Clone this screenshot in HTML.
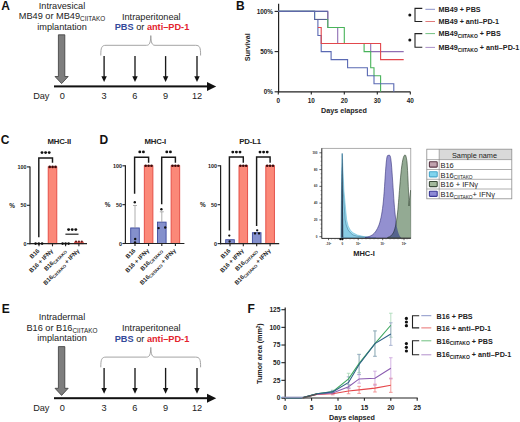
<!DOCTYPE html>
<html><head><meta charset="utf-8"><style>
html,body{margin:0;padding:0;background:#fff;width:520px;height:422px;overflow:hidden}
svg{display:block;font-family:"Liberation Sans",sans-serif}
</style></head><body>
<svg width="520" height="422" viewBox="0 0 520 422">
<text x="1.2" y="9.8" font-size="12" text-anchor="start" font-weight="bold" fill="#111" >A</text>
<text x="62" y="8.7" font-size="9.2" text-anchor="middle" font-weight="normal" fill="#222" >Intravesical</text>
<text x="62" y="19.1" font-size="9.2" text-anchor="middle" fill="#222">MB49 or MB49<tspan font-size="6.4" dy="1.8">CIITAKO</tspan></text>
<text x="62" y="29.5" font-size="9.2" text-anchor="middle" font-weight="normal" fill="#222" >implantation</text>
<path d="M58.4 34.8 H64.8 V76.5 H68.2 L61.6 83.6 L55 76.5 H58.4 Z" fill="#7e7e7e" stroke="#3a3a3a" stroke-width="0.8"/>
<rect x="54" y="85.4" width="155" height="2" fill="#111"/>
<path d="M207 81.9 L216.2 86.4 L207 90.9 Z" fill="#111"/>
<line x1="104.1" y1="56.1" x2="104.1" y2="77" stroke="#1a1a1a" stroke-width="1.35" />
<path d="M101.39999999999999 76.2 L106.8 76.2 L104.1 82 Z" fill="#111"/>
<line x1="135" y1="56.1" x2="135" y2="77" stroke="#1a1a1a" stroke-width="1.35" />
<path d="M132.3 76.2 L137.7 76.2 L135 82 Z" fill="#111"/>
<line x1="165.6" y1="56.1" x2="165.6" y2="77" stroke="#1a1a1a" stroke-width="1.35" />
<path d="M162.9 76.2 L168.29999999999998 76.2 L165.6 82 Z" fill="#111"/>
<line x1="197" y1="56.1" x2="197" y2="77" stroke="#1a1a1a" stroke-width="1.35" />
<path d="M194.3 76.2 L199.7 76.2 L197 82 Z" fill="#111"/>
<path d="M100.8 55.5 C100.8 47.8 101.5 45.3 106 45.3 H146.5 C149.5 45.3 150.6 42.8 150.8 35.6 C151 42.8 152.1 45.3 155 45.3 H195.5 C200 45.3 200.6 47.8 200.6 55.5" fill="none" stroke="#9a9a9a" stroke-width="0.9"/>
<text x="151.3" y="19.9" font-size="9.2" text-anchor="middle" font-weight="normal" fill="#222" >Intraperitoneal</text>
<text x="152" y="30.3" font-size="9.2" text-anchor="middle" fill="#222"><tspan font-weight="bold" fill="#34499a">PBS</tspan> or <tspan font-weight="bold" fill="#e3232e">anti–PD-1</tspan></text>
<text x="41.3" y="99.4" font-size="9.2" text-anchor="middle" font-weight="normal" fill="#222" >Day</text>
<text x="62.2" y="99.4" font-size="9.2" text-anchor="middle" font-weight="normal" fill="#222" >0</text>
<text x="104.1" y="99.4" font-size="9.2" text-anchor="middle" font-weight="normal" fill="#222" >3</text>
<text x="134.8" y="99.4" font-size="9.2" text-anchor="middle" font-weight="normal" fill="#222" >6</text>
<text x="165.6" y="99.4" font-size="9.2" text-anchor="middle" font-weight="normal" fill="#222" >9</text>
<text x="197.1" y="99.4" font-size="9.2" text-anchor="middle" font-weight="normal" fill="#222" >12</text>
<text x="1.7" y="313.3" font-size="12" text-anchor="start" font-weight="bold" fill="#111" >E</text>
<text x="62" y="320.4" font-size="9.2" text-anchor="middle" font-weight="normal" fill="#222" >Intradermal</text>
<text x="62" y="330.8" font-size="9.2" text-anchor="middle" fill="#222">B16 or B16<tspan font-size="6.4" dy="1.8">CIITAKO</tspan></text>
<text x="62" y="341.4" font-size="9.2" text-anchor="middle" font-weight="normal" fill="#222" >implantation</text>
<path d="M58.4 346.6 H64.8 V388.3 H68.2 L61.6 395.4 L55 388.3 H58.4 Z" fill="#7e7e7e" stroke="#3a3a3a" stroke-width="0.8"/>
<rect x="54" y="397.20000000000005" width="155" height="2" fill="#111"/>
<path d="M207 393.70000000000005 L216.2 398.20000000000005 L207 402.70000000000005 Z" fill="#111"/>
<line x1="104.1" y1="367.90000000000003" x2="104.1" y2="388.8" stroke="#1a1a1a" stroke-width="1.35" />
<path d="M101.39999999999999 388.0 L106.8 388.0 L104.1 393.8 Z" fill="#111"/>
<line x1="135" y1="367.90000000000003" x2="135" y2="388.8" stroke="#1a1a1a" stroke-width="1.35" />
<path d="M132.3 388.0 L137.7 388.0 L135 393.8 Z" fill="#111"/>
<line x1="165.6" y1="367.90000000000003" x2="165.6" y2="388.8" stroke="#1a1a1a" stroke-width="1.35" />
<path d="M162.9 388.0 L168.29999999999998 388.0 L165.6 393.8 Z" fill="#111"/>
<line x1="197" y1="367.90000000000003" x2="197" y2="388.8" stroke="#1a1a1a" stroke-width="1.35" />
<path d="M194.3 388.0 L199.7 388.0 L197 393.8 Z" fill="#111"/>
<path d="M100.8 367.3 C100.8 359.6 101.5 357.1 106 357.1 H146.5 C149.5 357.1 150.6 354.6 150.8 347.40000000000003 C151 354.6 152.1 357.1 155 357.1 H195.5 C200 357.1 200.6 359.6 200.6 367.3" fill="none" stroke="#9a9a9a" stroke-width="0.9"/>
<text x="151.3" y="331.3" font-size="9.2" text-anchor="middle" font-weight="normal" fill="#222" >Intraperitoneal</text>
<text x="152" y="342.3" font-size="9.2" text-anchor="middle" fill="#222"><tspan font-weight="bold" fill="#34499a">PBS</tspan> or <tspan font-weight="bold" fill="#e3232e">anti–PD-1</tspan></text>
<text x="41.3" y="411.20000000000005" font-size="9.2" text-anchor="middle" font-weight="normal" fill="#222" >Day</text>
<text x="62.2" y="411.20000000000005" font-size="9.2" text-anchor="middle" font-weight="normal" fill="#222" >0</text>
<text x="104.1" y="411.20000000000005" font-size="9.2" text-anchor="middle" font-weight="normal" fill="#222" >3</text>
<text x="134.8" y="411.20000000000005" font-size="9.2" text-anchor="middle" font-weight="normal" fill="#222" >6</text>
<text x="165.6" y="411.20000000000005" font-size="9.2" text-anchor="middle" font-weight="normal" fill="#222" >9</text>
<text x="197.1" y="411.20000000000005" font-size="9.2" text-anchor="middle" font-weight="normal" fill="#222" >12</text>
<text x="235.9" y="9.8" font-size="12" text-anchor="start" font-weight="bold" fill="#111" >B</text>
<line x1="278.6" y1="3.8" x2="278.6" y2="92.3" stroke="#222" stroke-width="1.2" />
<line x1="278" y1="91.8" x2="410.4" y2="91.8" stroke="#222" stroke-width="1.2" />
<line x1="274.6" y1="11.399999999999991" x2="278.6" y2="11.399999999999991" stroke="#222" stroke-width="1.1" />
<text x="273" y="13.699999999999992" font-size="6.4" text-anchor="end" font-weight="bold" fill="#222" >100%</text>
<line x1="274.6" y1="51.599999999999994" x2="278.6" y2="51.599999999999994" stroke="#222" stroke-width="1.1" />
<text x="273" y="53.89999999999999" font-size="6.4" text-anchor="end" font-weight="bold" fill="#222" >50%</text>
<line x1="274.6" y1="91.8" x2="278.6" y2="91.8" stroke="#222" stroke-width="1.1" />
<text x="273" y="94.1" font-size="6.4" text-anchor="end" font-weight="bold" fill="#222" >0%</text>
<line x1="278.3" y1="91.8" x2="278.3" y2="94.5" stroke="#222" stroke-width="1.1" />
<text x="278.3" y="102.6" font-size="6.4" text-anchor="middle" font-weight="bold" fill="#222" >0</text>
<line x1="311.3" y1="91.8" x2="311.3" y2="94.5" stroke="#222" stroke-width="1.1" />
<text x="311.3" y="102.6" font-size="6.4" text-anchor="middle" font-weight="bold" fill="#222" >10</text>
<line x1="344.3" y1="91.8" x2="344.3" y2="94.5" stroke="#222" stroke-width="1.1" />
<text x="344.3" y="102.6" font-size="6.4" text-anchor="middle" font-weight="bold" fill="#222" >20</text>
<line x1="377.3" y1="91.8" x2="377.3" y2="94.5" stroke="#222" stroke-width="1.1" />
<text x="377.3" y="102.6" font-size="6.4" text-anchor="middle" font-weight="bold" fill="#222" >30</text>
<line x1="410.3" y1="91.8" x2="410.3" y2="94.5" stroke="#222" stroke-width="1.1" />
<text x="410.3" y="102.6" font-size="6.4" text-anchor="middle" font-weight="bold" fill="#222" >40</text>
<text x="344" y="113.4" font-size="7.2" text-anchor="middle" font-weight="bold" fill="#222" >Days elapsed</text>
<text transform="translate(250.2 47.2) rotate(-90)" font-size="7.2" text-anchor="middle" font-weight="bold" fill="#222">Survival</text>
<path d="M278.3 11.4 H327.8 V27.48 H337.7 V43.56 H370.7 V51.6 H403.7 V51.6" fill="none" stroke="#8f6fb3" stroke-width="1.1"/>
<path d="M278.3 11.4 H314.6 V19.44 H327.8 V27.48 H344.3 V43.56 H364.1 V51.6 H370.7 V67.68 H374.0 V75.72 H380.6 V91.8" fill="none" stroke="#48b35a" stroke-width="1.1"/>
<path d="M278.3 11.4 H314.6 V19.44 H317.9 V35.52 H321.2 V51.6 H331.1 V59.64 H347.6 V67.68 H367.4 V75.72 H374.0 V83.76 H393.8 V91.8" fill="none" stroke="#5a69b3" stroke-width="1.1"/>
<path d="M317.9 27.48 H321.2 V43.56 H380.6 V59.64 H403.7" fill="none" stroke="#e2474c" stroke-width="1.1"/>
<path d="M314.6 19.44 H326.48" fill="none" stroke="#5b6292" stroke-width="1.1"/>
<path d="M327.8 11.4 V19.44" fill="none" stroke="#7a6a9c" stroke-width="1.1"/>
<path d="M278.3 11.4 H327.8" fill="none" stroke="#5e68a8" stroke-width="1.1"/>
<path d="M422.3 8.4 H415 V21.5 H422.3" fill="none" stroke="#222" stroke-width="1.1"/>
<circle cx="409.8" cy="14.9" r="1.5" fill="#111"/>
<path d="M422.3 33.6 H415 V47.2 H422.3" fill="none" stroke="#222" stroke-width="1.1"/>
<circle cx="409.8" cy="40.0" r="1.5" fill="#111"/>
<line x1="425.4" y1="9.3" x2="435" y2="9.3" stroke="#8c93c8" stroke-width="1" />
<line x1="425.4" y1="21.5" x2="435" y2="21.5" stroke="#e07a7a" stroke-width="1" />
<line x1="425.4" y1="33.6" x2="435" y2="33.6" stroke="#72c080" stroke-width="1" />
<line x1="425.4" y1="47.4" x2="435" y2="47.4" stroke="#ab90c8" stroke-width="1" />
<text x="438.5" y="11.8" font-size="7.2" text-anchor="start" font-weight="bold" fill="#222" >MB49 + PBS</text>
<text x="438.5" y="24.0" font-size="7.2" text-anchor="start" font-weight="bold" fill="#222" >MB49 + anti–PD-1</text>
<text x="438.5" y="36.2" font-size="7.2" font-weight="bold" fill="#222">MB49<tspan font-size="5" dy="1.6">CIITAKO</tspan><tspan dy="-1.6"> + PBS</tspan></text>
<text x="438.5" y="50.0" font-size="7.2" font-weight="bold" fill="#222">MB49<tspan font-size="5" dy="1.6">CIITAKO</tspan><tspan dy="-1.6"> + anti–PD-1</tspan></text>
<text x="0.8" y="143.6" font-size="12" text-anchor="start" font-weight="bold" fill="#111" >C</text>
<rect x="48.2" y="166.9" width="8.6" height="76.79999999999998" fill="#fb8878" stroke="#e2473f" stroke-width="0.9"/>
<rect x="74.60000000000001" y="242.164" width="8.6" height="1.5360000000000014" fill="#fb8878" stroke="#e2473f" stroke-width="0.9"/>
<line x1="30.0" y1="166.4" x2="30.0" y2="244.29999999999998" stroke="#222" stroke-width="1.2" />
<line x1="29.5" y1="243.7" x2="87" y2="243.7" stroke="#222" stroke-width="1.2" />
<line x1="27.0" y1="166.9" x2="30.0" y2="166.9" stroke="#222" stroke-width="1.1" />
<text x="26.5" y="168.9" font-size="5.4" text-anchor="end" font-weight="bold" fill="#222" >100</text>
<line x1="27.0" y1="205.3" x2="30.0" y2="205.3" stroke="#222" stroke-width="1.1" />
<text x="26.5" y="207.3" font-size="5.4" text-anchor="end" font-weight="bold" fill="#222" >50</text>
<line x1="27.0" y1="243.7" x2="30.0" y2="243.7" stroke="#222" stroke-width="1.1" />
<text x="26.5" y="245.7" font-size="5.4" text-anchor="end" font-weight="bold" fill="#222" >0</text>
<text x="12.2" y="207.60000000000002" font-size="6.4" text-anchor="middle" font-weight="bold" fill="#222" >%</text>
<line x1="39" y1="243.7" x2="39" y2="246.29999999999998" stroke="#222" stroke-width="1.1" />
<line x1="52.5" y1="243.7" x2="52.5" y2="246.29999999999998" stroke="#222" stroke-width="1.1" />
<line x1="65.6" y1="243.7" x2="65.6" y2="246.29999999999998" stroke="#222" stroke-width="1.1" />
<line x1="78.9" y1="243.7" x2="78.9" y2="246.29999999999998" stroke="#222" stroke-width="1.1" />
<text x="59.2" y="143.8" font-size="7.8" text-anchor="middle" font-weight="bold" fill="#222" letter-spacing="-0.2">MHC-II</text>
<path d="M38.8 237.3 V158.0 H52.5 V162.8" fill="none" stroke="#1a1a1a" stroke-width="1.45"/>
<circle cx="42.0" cy="152.6" r="1.45" fill="#111"/>
<circle cx="45.6" cy="152.6" r="1.45" fill="#111"/>
<circle cx="49.2" cy="152.6" r="1.45" fill="#111"/>
<circle cx="68.60000000000001" cy="229.6" r="1.45" fill="#111"/>
<circle cx="72.2" cy="229.6" r="1.45" fill="#111"/>
<circle cx="75.8" cy="229.6" r="1.45" fill="#111"/>
<text transform="translate(39.9 251.29999999999998) rotate(-45)" font-size="6" text-anchor="end" font-weight="bold" fill="#222">B16</text>
<text transform="translate(53.4 251.29999999999998) rotate(-45)" font-size="6" text-anchor="end" font-weight="bold" fill="#222">B16 + IFNγ</text>
<text transform="translate(66.5 251.29999999999998) rotate(-45)" font-size="6" text-anchor="end" font-weight="bold" fill="#222">B16<tspan font-size="4.3" dy="1.2">CIITAKO</tspan></text>
<text transform="translate(79.80000000000001 251.29999999999998) rotate(-45)" font-size="6" text-anchor="end" font-weight="bold" fill="#222">B16<tspan font-size="4.3" dy="1.2">CIITAKO</tspan><tspan dy="-1.2"> + IFNγ</tspan></text>
<line x1="65.4" y1="234.2" x2="78.5" y2="234.2" stroke="#222" stroke-width="1.2" />
<circle cx="35.6" cy="243.6" r="1.3" fill="#111"/>
<circle cx="38.8" cy="243.6" r="1.3" fill="#111"/>
<circle cx="42.1" cy="243.6" r="1.3" fill="#111"/>
<circle cx="62.6" cy="243.6" r="1.3" fill="#111"/>
<circle cx="65.6" cy="243.6" r="1.3" fill="#111"/>
<circle cx="68.6" cy="243.6" r="1.3" fill="#111"/>
<circle cx="49.7" cy="166.9" r="1.3" fill="#3a0a0a"/>
<circle cx="52.6" cy="166.9" r="1.3" fill="#3a0a0a"/>
<circle cx="55.5" cy="166.9" r="1.3" fill="#3a0a0a"/>
<circle cx="76.0" cy="241.6" r="1.1" fill="#6a1a1a"/>
<circle cx="78.9" cy="241.6" r="1.1" fill="#6a1a1a"/>
<circle cx="81.8" cy="241.6" r="1.1" fill="#6a1a1a"/>
<text x="99.6" y="143.8" font-size="12" text-anchor="start" font-weight="bold" fill="#111" >D</text>
<rect x="130.7" y="227.96" width="8.6" height="15.539999999999992" fill="#8490cc" stroke="#3d4a9e" stroke-width="0.9"/>
<rect x="144.29999999999998" y="165.8" width="8.6" height="77.69999999999999" fill="#fb8878" stroke="#e2473f" stroke-width="0.9"/>
<rect x="157.5" y="222.1325" width="8.6" height="21.367500000000007" fill="#8490cc" stroke="#3d4a9e" stroke-width="0.9"/>
<rect x="171.1" y="165.8" width="8.6" height="77.69999999999999" fill="#fb8878" stroke="#e2473f" stroke-width="0.9"/>
<line x1="125.4" y1="165.3" x2="125.4" y2="244.1" stroke="#222" stroke-width="1.2" />
<line x1="124.9" y1="243.5" x2="184.4" y2="243.5" stroke="#222" stroke-width="1.2" />
<line x1="122.4" y1="165.8" x2="125.4" y2="165.8" stroke="#222" stroke-width="1.1" />
<text x="121.9" y="167.8" font-size="5.4" text-anchor="end" font-weight="bold" fill="#222" >100</text>
<line x1="122.4" y1="204.65" x2="125.4" y2="204.65" stroke="#222" stroke-width="1.1" />
<text x="121.9" y="206.65" font-size="5.4" text-anchor="end" font-weight="bold" fill="#222" >50</text>
<line x1="122.4" y1="243.5" x2="125.4" y2="243.5" stroke="#222" stroke-width="1.1" />
<text x="121.9" y="245.5" font-size="5.4" text-anchor="end" font-weight="bold" fill="#222" >0</text>
<text x="107.60000000000001" y="206.95000000000002" font-size="6.4" text-anchor="middle" font-weight="bold" fill="#222" >%</text>
<line x1="135" y1="243.5" x2="135" y2="246.1" stroke="#222" stroke-width="1.1" />
<line x1="148.6" y1="243.5" x2="148.6" y2="246.1" stroke="#222" stroke-width="1.1" />
<line x1="161.8" y1="243.5" x2="161.8" y2="246.1" stroke="#222" stroke-width="1.1" />
<line x1="175.4" y1="243.5" x2="175.4" y2="246.1" stroke="#222" stroke-width="1.1" />
<text x="155.3" y="143.8" font-size="7.8" text-anchor="middle" font-weight="bold" fill="#222" letter-spacing="-0.2">MHC-I</text>
<path d="M134.6 193.8 V157.3 H148.6 V162.8" fill="none" stroke="#1a1a1a" stroke-width="1.45"/>
<path d="M161.7 204.2 V157.3 H175.4 V162.8" fill="none" stroke="#1a1a1a" stroke-width="1.45"/>
<circle cx="139.79999999999998" cy="151.9" r="1.45" fill="#111"/>
<circle cx="143.4" cy="151.9" r="1.45" fill="#111"/>
<circle cx="166.79999999999998" cy="151.9" r="1.45" fill="#111"/>
<circle cx="170.4" cy="151.9" r="1.45" fill="#111"/>
<text transform="translate(135.9 251.1) rotate(-45)" font-size="6" text-anchor="end" font-weight="bold" fill="#222">B16</text>
<text transform="translate(149.5 251.1) rotate(-45)" font-size="6" text-anchor="end" font-weight="bold" fill="#222">B16 + IFNγ</text>
<text transform="translate(162.70000000000002 251.1) rotate(-45)" font-size="6" text-anchor="end" font-weight="bold" fill="#222">B16<tspan font-size="4.3" dy="1.2">CIITAKO</tspan></text>
<text transform="translate(176.3 251.1) rotate(-45)" font-size="6" text-anchor="end" font-weight="bold" fill="#222">B16<tspan font-size="4.3" dy="1.2">CIITAKO</tspan><tspan dy="-1.2"> + IFNγ</tspan></text>
<line x1="135" y1="205.5" x2="135" y2="228" stroke="#999" stroke-width="0.8" />
<line x1="133" y1="205.5" x2="137" y2="205.5" stroke="#999" stroke-width="0.8" />
<line x1="161.8" y1="211.8" x2="161.8" y2="222.2" stroke="#999" stroke-width="0.8" />
<line x1="159.8" y1="211.8" x2="163.8" y2="211.8" stroke="#999" stroke-width="0.8" />
<circle cx="134.8" cy="202.3" r="1.2" fill="#111"/>
<circle cx="135.2" cy="239" r="1.2" fill="#111"/>
<circle cx="135" cy="242.4" r="1.2" fill="#111"/>
<circle cx="161.4" cy="209.3" r="1.2" fill="#111"/>
<circle cx="158.6" cy="228.1" r="1.2" fill="#111"/>
<circle cx="165.2" cy="227.5" r="1.2" fill="#111"/>
<circle cx="145.7" cy="165.7" r="1.3" fill="#3a0a0a"/>
<circle cx="148.6" cy="165.7" r="1.3" fill="#3a0a0a"/>
<circle cx="151.5" cy="165.7" r="1.3" fill="#3a0a0a"/>
<circle cx="172.5" cy="165.7" r="1.3" fill="#3a0a0a"/>
<circle cx="175.4" cy="165.7" r="1.3" fill="#3a0a0a"/>
<circle cx="178.3" cy="165.7" r="1.3" fill="#3a0a0a"/>
<rect x="225.7" y="239.71" width="8.6" height="3.8899999999999864" fill="#8490cc" stroke="#3d4a9e" stroke-width="0.9"/>
<rect x="239.0" y="165.8" width="8.6" height="77.79999999999998" fill="#fb8878" stroke="#e2473f" stroke-width="0.9"/>
<rect x="252.39999999999998" y="232.708" width="8.6" height="10.891999999999996" fill="#8490cc" stroke="#3d4a9e" stroke-width="0.9"/>
<rect x="265.8" y="165.8" width="8.6" height="77.79999999999998" fill="#fb8878" stroke="#e2473f" stroke-width="0.9"/>
<line x1="220.6" y1="165.3" x2="220.6" y2="244.2" stroke="#222" stroke-width="1.2" />
<line x1="220.1" y1="243.6" x2="279.2" y2="243.6" stroke="#222" stroke-width="1.2" />
<line x1="217.6" y1="165.8" x2="220.6" y2="165.8" stroke="#222" stroke-width="1.1" />
<text x="217.1" y="167.8" font-size="5.4" text-anchor="end" font-weight="bold" fill="#222" >100</text>
<line x1="217.6" y1="204.7" x2="220.6" y2="204.7" stroke="#222" stroke-width="1.1" />
<text x="217.1" y="206.7" font-size="5.4" text-anchor="end" font-weight="bold" fill="#222" >50</text>
<line x1="217.6" y1="243.6" x2="220.6" y2="243.6" stroke="#222" stroke-width="1.1" />
<text x="217.1" y="245.6" font-size="5.4" text-anchor="end" font-weight="bold" fill="#222" >0</text>
<text x="202.79999999999998" y="207.0" font-size="6.4" text-anchor="middle" font-weight="bold" fill="#222" >%</text>
<line x1="230" y1="243.6" x2="230" y2="246.2" stroke="#222" stroke-width="1.1" />
<line x1="243.3" y1="243.6" x2="243.3" y2="246.2" stroke="#222" stroke-width="1.1" />
<line x1="256.7" y1="243.6" x2="256.7" y2="246.2" stroke="#222" stroke-width="1.1" />
<line x1="270.1" y1="243.6" x2="270.1" y2="246.2" stroke="#222" stroke-width="1.1" />
<text x="250.1" y="143.8" font-size="7.8" text-anchor="middle" font-weight="bold" fill="#222" letter-spacing="-0.2">PD-L1</text>
<path d="M229.4 230.5 V157.0 H243.3 V162.8" fill="none" stroke="#1a1a1a" stroke-width="1.45"/>
<path d="M256.6 226 V157.0 H270.1 V162.8" fill="none" stroke="#1a1a1a" stroke-width="1.45"/>
<circle cx="232.8" cy="152.1" r="1.45" fill="#111"/>
<circle cx="236.4" cy="152.1" r="1.45" fill="#111"/>
<circle cx="240.0" cy="152.1" r="1.45" fill="#111"/>
<circle cx="260.0" cy="152.1" r="1.45" fill="#111"/>
<circle cx="263.6" cy="152.1" r="1.45" fill="#111"/>
<circle cx="267.20000000000005" cy="152.1" r="1.45" fill="#111"/>
<text transform="translate(230.9 251.2) rotate(-45)" font-size="6" text-anchor="end" font-weight="bold" fill="#222">B16</text>
<text transform="translate(244.20000000000002 251.2) rotate(-45)" font-size="6" text-anchor="end" font-weight="bold" fill="#222">B16 + IFNγ</text>
<text transform="translate(257.59999999999997 251.2) rotate(-45)" font-size="6" text-anchor="end" font-weight="bold" fill="#222">B16<tspan font-size="4.3" dy="1.2">CIITAKO</tspan></text>
<text transform="translate(271.0 251.2) rotate(-45)" font-size="6" text-anchor="end" font-weight="bold" fill="#222">B16<tspan font-size="4.3" dy="1.2">CIITAKO</tspan><tspan dy="-1.2"> + IFNγ</tspan></text>
<circle cx="229.3" cy="235.6" r="1.15" fill="#111"/>
<circle cx="229.6" cy="241.5" r="1.15" fill="#111"/>
<circle cx="257.2" cy="230.3" r="1.15" fill="#111"/>
<circle cx="255" cy="233.5" r="1.15" fill="#111"/>
<circle cx="259" cy="233.5" r="1.15" fill="#111"/>
<circle cx="240.4" cy="165.7" r="1.3" fill="#3a0a0a"/>
<circle cx="243.3" cy="165.7" r="1.3" fill="#3a0a0a"/>
<circle cx="246.20000000000002" cy="165.7" r="1.3" fill="#3a0a0a"/>
<circle cx="267.20000000000005" cy="165.7" r="1.3" fill="#3a0a0a"/>
<circle cx="270.1" cy="165.7" r="1.3" fill="#3a0a0a"/>
<circle cx="273.0" cy="165.7" r="1.3" fill="#3a0a0a"/>
<rect x="321.8" y="148.3" width="89.0" height="90.1" fill="#fff" stroke="#8a8a8a" stroke-width="0.7"/>
<clipPath id="hc"><rect x="321.8" y="148.3" width="89.0" height="90.1"/></clipPath>
<g clip-path="url(#hc)">
<path d="M340.9 237.6 L341.6 175 L342.3 153.8 L343.2 175 L343.9 190 L344.8 200 L345.7 210 L346.7 220 L348.2 226 L350.2 230 L353 232.8 L357.3 235 L364 236.6 L372 237.3 L376 237.6 Z" fill="#a4e0f2" stroke="#58b4d4" stroke-width="0.5"/>
<path d="M341.2 237.6 L341.7 175 L342.2 153.3 L342.6 175 L343.1 190 L343.8 200 L344.5 210 L345.2 220 L346.2 225 L348.1 230 L350.5 232.8 L353 235 L358 236.4 L366 237.2 L370 237.6 Z" fill="#5fb0d0" fill-opacity="0.4" stroke="#3f7392" stroke-width="0.5"/>
<path d="M341.3 237.6 L341.6 190 L342.2 153.3 L342.8 190 L343.3 237.6 Z" fill="#2c3c52"/>
<clipPath id="pc"><path d="M365 237.6 C368 237 370.5 236.2 372.5 234.8 C375 233 377 230 379 225 C381 219 382.3 212 383.4 201 C384.5 190 385.3 172 386.2 163 C386.8 157 387.2 155.5 388 155.3 L389.6 155.3 C390.4 155.5 390.8 158 391.4 164 C392.2 173 393.2 190 394.2 204 C395 214 395.8 221 397 227.5 C398 232 399 235.5 400.8 237.6 Z"/></clipPath>
<path d="M365 237.6 C368 237 370.5 236.2 372.5 234.8 C375 233 377 230 379 225 C381 219 382.3 212 383.4 201 C384.5 190 385.3 172 386.2 163 C386.8 157 387.2 155.5 388 155.3 L389.6 155.3 C390.4 155.5 390.8 158 391.4 164 C392.2 173 393.2 190 394.2 204 C395 214 395.8 221 397 227.5 C398 232 399 235.5 400.8 237.6 Z" fill="#9390d0" stroke="#35337a" stroke-width="0.6"/>
<path d="M387.5 237.6 C390.5 237 392.5 235 394 231.5 C395.5 228 396.3 223 397.2 216 C398.2 208 398.8 198 399.8 186 C400.8 174 401.8 163 403.4 157.5 C404 155.5 404.5 155 405.1 155 C405.8 155 406.4 157 407 162 C407.8 172 408.4 188 409 206 C409.6 198 410.2 192 410.9 190 L411.2 237.6 Z" fill="#93aa93" stroke="#2e3f2e" stroke-width="0.6"/>
<path d="M387.5 237.6 C390.5 237 392.5 235 394 231.5 C395.5 228 396.3 223 397.2 216 C398.2 208 398.8 198 399.8 186 C400.8 174 401.8 163 403.4 157.5 C404 155.5 404.5 155 405.1 155 C405.8 155 406.4 157 407 162 C407.8 172 408.4 188 409 206 C409.6 198 410.2 192 410.9 190 L411.2 237.6 Z" fill="#56648e" stroke="#2a3050" stroke-width="0.5" clip-path="url(#pc)"/>
</g>
<line x1="319.40000000000003" y1="152.8" x2="321.8" y2="152.8" stroke="#222" stroke-width="0.7" />
<text x="317.40000000000003" y="153.8" font-size="3" text-anchor="end" font-weight="bold" fill="#222" >100</text>
<line x1="319.40000000000003" y1="169.57999999999998" x2="321.8" y2="169.57999999999998" stroke="#222" stroke-width="0.7" />
<text x="317.40000000000003" y="170.57999999999998" font-size="3" text-anchor="end" font-weight="bold" fill="#222" >80</text>
<line x1="319.40000000000003" y1="186.35999999999999" x2="321.8" y2="186.35999999999999" stroke="#222" stroke-width="0.7" />
<text x="317.40000000000003" y="187.35999999999999" font-size="3" text-anchor="end" font-weight="bold" fill="#222" >60</text>
<line x1="319.40000000000003" y1="203.14" x2="321.8" y2="203.14" stroke="#222" stroke-width="0.7" />
<text x="317.40000000000003" y="204.14" font-size="3" text-anchor="end" font-weight="bold" fill="#222" >40</text>
<line x1="319.40000000000003" y1="219.92" x2="321.8" y2="219.92" stroke="#222" stroke-width="0.7" />
<text x="317.40000000000003" y="220.92" font-size="3" text-anchor="end" font-weight="bold" fill="#222" >20</text>
<line x1="319.40000000000003" y1="236.7" x2="321.8" y2="236.7" stroke="#222" stroke-width="0.7" />
<text x="317.40000000000003" y="237.7" font-size="3" text-anchor="end" font-weight="bold" fill="#222" >0</text>
<line x1="320.5" y1="232.505" x2="321.8" y2="232.505" stroke="#444" stroke-width="0.5" />
<line x1="320.5" y1="228.31" x2="321.8" y2="228.31" stroke="#444" stroke-width="0.5" />
<line x1="320.5" y1="224.11499999999998" x2="321.8" y2="224.11499999999998" stroke="#444" stroke-width="0.5" />
<line x1="320.5" y1="215.725" x2="321.8" y2="215.725" stroke="#444" stroke-width="0.5" />
<line x1="320.5" y1="211.53" x2="321.8" y2="211.53" stroke="#444" stroke-width="0.5" />
<line x1="320.5" y1="207.33499999999998" x2="321.8" y2="207.33499999999998" stroke="#444" stroke-width="0.5" />
<line x1="320.5" y1="198.945" x2="321.8" y2="198.945" stroke="#444" stroke-width="0.5" />
<line x1="320.5" y1="194.75" x2="321.8" y2="194.75" stroke="#444" stroke-width="0.5" />
<line x1="320.5" y1="190.555" x2="321.8" y2="190.555" stroke="#444" stroke-width="0.5" />
<line x1="320.5" y1="182.165" x2="321.8" y2="182.165" stroke="#444" stroke-width="0.5" />
<line x1="320.5" y1="177.97" x2="321.8" y2="177.97" stroke="#444" stroke-width="0.5" />
<line x1="320.5" y1="173.77499999999998" x2="321.8" y2="173.77499999999998" stroke="#444" stroke-width="0.5" />
<line x1="320.5" y1="165.385" x2="321.8" y2="165.385" stroke="#444" stroke-width="0.5" />
<line x1="320.5" y1="161.19" x2="321.8" y2="161.19" stroke="#444" stroke-width="0.5" />
<line x1="320.5" y1="156.995" x2="321.8" y2="156.995" stroke="#444" stroke-width="0.5" />
<line x1="321.8" y1="148.3" x2="321.8" y2="238.4" stroke="#222" stroke-width="0.8" />
<line x1="321.8" y1="238.4" x2="410.8" y2="238.4" stroke="#222" stroke-width="0.8" />
<line x1="328.5" y1="238.4" x2="328.5" y2="240.20000000000002" stroke="#222" stroke-width="0.7" />
<text x="328.5" y="245" font-size="3" text-anchor="middle" font-weight="bold" fill="#222" >-10<tspan font-size="2" dy="-1">3</tspan></text>
<line x1="342.3" y1="238.4" x2="342.3" y2="240.20000000000002" stroke="#222" stroke-width="0.7" />
<text x="342.3" y="245" font-size="3" text-anchor="middle" font-weight="bold" fill="#222" >0</text>
<line x1="358.2" y1="238.4" x2="358.2" y2="240.20000000000002" stroke="#222" stroke-width="0.7" />
<text x="358.2" y="245" font-size="3" text-anchor="middle" font-weight="bold" fill="#222" >10<tspan font-size="2" dy="-1">3</tspan></text>
<line x1="382.7" y1="238.4" x2="382.7" y2="240.20000000000002" stroke="#222" stroke-width="0.7" />
<text x="382.7" y="245" font-size="3" text-anchor="middle" font-weight="bold" fill="#222" >10<tspan font-size="2" dy="-1">4</tspan></text>
<line x1="404" y1="238.4" x2="404" y2="240.20000000000002" stroke="#222" stroke-width="0.7" />
<text x="404" y="245" font-size="3" text-anchor="middle" font-weight="bold" fill="#222" >10<tspan font-size="2" dy="-1">5</tspan></text>
<line x1="331.5" y1="238.4" x2="331.5" y2="239.4" stroke="#444" stroke-width="0.5" />
<line x1="335" y1="238.4" x2="335" y2="239.4" stroke="#444" stroke-width="0.5" />
<line x1="338" y1="238.4" x2="338" y2="239.4" stroke="#444" stroke-width="0.5" />
<line x1="346" y1="238.4" x2="346" y2="239.4" stroke="#444" stroke-width="0.5" />
<line x1="350" y1="238.4" x2="350" y2="239.4" stroke="#444" stroke-width="0.5" />
<line x1="354" y1="238.4" x2="354" y2="239.4" stroke="#444" stroke-width="0.5" />
<line x1="362" y1="238.4" x2="362" y2="239.4" stroke="#444" stroke-width="0.5" />
<line x1="366" y1="238.4" x2="366" y2="239.4" stroke="#444" stroke-width="0.5" />
<line x1="370" y1="238.4" x2="370" y2="239.4" stroke="#444" stroke-width="0.5" />
<line x1="374" y1="238.4" x2="374" y2="239.4" stroke="#444" stroke-width="0.5" />
<line x1="378" y1="238.4" x2="378" y2="239.4" stroke="#444" stroke-width="0.5" />
<line x1="386" y1="238.4" x2="386" y2="239.4" stroke="#444" stroke-width="0.5" />
<line x1="390" y1="238.4" x2="390" y2="239.4" stroke="#444" stroke-width="0.5" />
<line x1="394" y1="238.4" x2="394" y2="239.4" stroke="#444" stroke-width="0.5" />
<line x1="398" y1="238.4" x2="398" y2="239.4" stroke="#444" stroke-width="0.5" />
<line x1="402" y1="238.4" x2="402" y2="239.4" stroke="#444" stroke-width="0.5" />
<line x1="407" y1="238.4" x2="407" y2="239.4" stroke="#444" stroke-width="0.5" />
<circle cx="340.4" cy="239.2" r="1.1" fill="#111"/>
<circle cx="342.4" cy="239.2" r="1.1" fill="#111"/>
<text x="364" y="255.6" font-size="7.5" text-anchor="middle" font-weight="bold" fill="#222" >MHC-I</text>
<rect x="439.2" y="149.2" width="72.60000000000002" height="10.400000000000006" fill="#d9d9d9"/>
<rect x="426.8" y="149.2" width="85.0" height="49.60000000000002" fill="none" stroke="#8c8c8c" stroke-width="0.8"/>
<line x1="426.8" y1="159.6" x2="511.8" y2="159.6" stroke="#8c8c8c" stroke-width="0.7" />
<line x1="426.8" y1="169.5" x2="511.8" y2="169.5" stroke="#8c8c8c" stroke-width="0.7" />
<line x1="426.8" y1="179.3" x2="511.8" y2="179.3" stroke="#8c8c8c" stroke-width="0.7" />
<line x1="426.8" y1="189.0" x2="511.8" y2="189.0" stroke="#8c8c8c" stroke-width="0.7" />
<line x1="439.2" y1="149.2" x2="439.2" y2="198.8" stroke="#8c8c8c" stroke-width="0.7" />
<text x="474.5" y="158.3" font-size="7.3" text-anchor="middle" font-weight="normal" fill="#222" >Sample name</text>
<rect x="429.4" y="161.79999999999998" width="7.8" height="5.300000000000006" rx="0.6" fill="#c0a2ae" stroke="#5a3646" stroke-width="1.1"/>
<text x="440.4" y="167.9" font-size="7.5" fill="#222">B16</text>
<rect x="429.4" y="171.7" width="7.8" height="5.200000000000012" rx="0.6" fill="#80d4ee" stroke="#4aa8cc" stroke-width="1.1"/>
<text x="440.4" y="177.70000000000002" font-size="7.5" fill="#222">B16<tspan font-size="4.8" dy="1.4">CIITAKO</tspan></text>
<rect x="429.4" y="181.5" width="7.8" height="5.099999999999989" rx="0.6" fill="#a3b89c" stroke="#3c4c3a" stroke-width="1.1"/>
<text x="440.4" y="187.4" font-size="7.5" fill="#222">B16 + IFNγ</text>
<rect x="429.4" y="191.2" width="7.8" height="5.200000000000012" rx="0.6" fill="#8d8ad6" stroke="#3a3896" stroke-width="1.1"/>
<text x="440.4" y="197.20000000000002" font-size="7.5" fill="#222">B16<tspan font-size="4.8" dy="1.4">CIITAKO</tspan><tspan dy="-1.4">+ IFNγ</tspan></text>
<text x="247.5" y="313.3" font-size="12" text-anchor="start" font-weight="bold" fill="#111" >F</text>
<line x1="285.2" y1="307.5" x2="285.2" y2="398.6" stroke="#222" stroke-width="1.2" />
<line x1="281.7" y1="398.0" x2="417.7" y2="398.0" stroke="#222" stroke-width="1.2" />
<line x1="281.4" y1="398.0" x2="285.2" y2="398.0" stroke="#222" stroke-width="1.1" />
<text x="280.4" y="400.3" font-size="6.6" text-anchor="end" font-weight="bold" fill="#222" >0</text>
<line x1="281.4" y1="380.34" x2="285.2" y2="380.34" stroke="#222" stroke-width="1.1" />
<text x="280.4" y="382.64" font-size="6.6" text-anchor="end" font-weight="bold" fill="#222" >25</text>
<line x1="281.4" y1="362.68" x2="285.2" y2="362.68" stroke="#222" stroke-width="1.1" />
<text x="280.4" y="364.98" font-size="6.6" text-anchor="end" font-weight="bold" fill="#222" >50</text>
<line x1="281.4" y1="345.02" x2="285.2" y2="345.02" stroke="#222" stroke-width="1.1" />
<text x="280.4" y="347.32" font-size="6.6" text-anchor="end" font-weight="bold" fill="#222" >75</text>
<line x1="281.4" y1="327.36" x2="285.2" y2="327.36" stroke="#222" stroke-width="1.1" />
<text x="280.4" y="329.66" font-size="6.6" text-anchor="end" font-weight="bold" fill="#222" >100</text>
<line x1="281.4" y1="309.7" x2="285.2" y2="309.7" stroke="#222" stroke-width="1.1" />
<text x="280.4" y="312.0" font-size="6.6" text-anchor="end" font-weight="bold" fill="#222" >125</text>
<line x1="285.2" y1="398.0" x2="285.2" y2="400.7" stroke="#222" stroke-width="1.1" />
<text x="285.2" y="409.6" font-size="6.6" text-anchor="middle" font-weight="bold" fill="#222" >0</text>
<line x1="311.59999999999997" y1="398.0" x2="311.59999999999997" y2="400.7" stroke="#222" stroke-width="1.1" />
<text x="311.59999999999997" y="409.6" font-size="6.6" text-anchor="middle" font-weight="bold" fill="#222" >5</text>
<line x1="338.0" y1="398.0" x2="338.0" y2="400.7" stroke="#222" stroke-width="1.1" />
<text x="338.0" y="409.6" font-size="6.6" text-anchor="middle" font-weight="bold" fill="#222" >10</text>
<line x1="364.4" y1="398.0" x2="364.4" y2="400.7" stroke="#222" stroke-width="1.1" />
<text x="364.4" y="409.6" font-size="6.6" text-anchor="middle" font-weight="bold" fill="#222" >15</text>
<line x1="390.8" y1="398.0" x2="390.8" y2="400.7" stroke="#222" stroke-width="1.1" />
<text x="390.8" y="409.6" font-size="6.6" text-anchor="middle" font-weight="bold" fill="#222" >20</text>
<line x1="417.2" y1="398.0" x2="417.2" y2="400.7" stroke="#222" stroke-width="1.1" />
<text x="417.2" y="409.6" font-size="6.6" text-anchor="middle" font-weight="bold" fill="#222" >25</text>
<text x="352" y="419.8" font-size="7.2" text-anchor="middle" font-weight="bold" fill="#222" >Days elapsed</text>
<text transform="translate(262.2 353.6) rotate(-90)" font-size="7.2" text-anchor="middle" font-weight="bold" fill="#222">Tumor area (mm<tspan font-size="4.6" dy="-2.6">2</tspan><tspan dy="2.6">)</tspan></text>
<line x1="332.71999999999997" y1="392.702" x2="332.71999999999997" y2="394.8212" stroke="lightcoral" stroke-width="0.8" />
<line x1="330.91999999999996" y1="392.702" x2="334.52" y2="392.702" stroke="lightcoral" stroke-width="0.8" />
<line x1="330.91999999999996" y1="394.8212" x2="334.52" y2="394.8212" stroke="lightcoral" stroke-width="0.8" />
<line x1="348.56" y1="388.1104" x2="348.56" y2="393.7616" stroke="lightcoral" stroke-width="0.8" />
<line x1="346.76" y1="388.1104" x2="350.36" y2="388.1104" stroke="lightcoral" stroke-width="0.8" />
<line x1="346.76" y1="393.7616" x2="350.36" y2="393.7616" stroke="lightcoral" stroke-width="0.8" />
<line x1="359.12" y1="386.3444" x2="359.12" y2="393.4084" stroke="lightcoral" stroke-width="0.8" />
<line x1="357.32" y1="386.3444" x2="360.92" y2="386.3444" stroke="lightcoral" stroke-width="0.8" />
<line x1="357.32" y1="393.4084" x2="360.92" y2="393.4084" stroke="lightcoral" stroke-width="0.8" />
<line x1="374.96" y1="384.2252" x2="374.96" y2="391.9956" stroke="lightcoral" stroke-width="0.8" />
<line x1="373.15999999999997" y1="384.2252" x2="376.76" y2="384.2252" stroke="lightcoral" stroke-width="0.8" />
<line x1="373.15999999999997" y1="391.9956" x2="376.76" y2="391.9956" stroke="lightcoral" stroke-width="0.8" />
<line x1="390.8" y1="378.2208" x2="390.8" y2="392.3488" stroke="lightcoral" stroke-width="0.8" />
<line x1="389.0" y1="378.2208" x2="392.6" y2="378.2208" stroke="lightcoral" stroke-width="0.8" />
<line x1="389.0" y1="392.3488" x2="392.6" y2="392.3488" stroke="lightcoral" stroke-width="0.8" />
<line x1="332.71999999999997" y1="391.9956" x2="332.71999999999997" y2="394.1148" stroke="#c9a0dc" stroke-width="0.8" />
<line x1="330.91999999999996" y1="391.9956" x2="334.52" y2="391.9956" stroke="#c9a0dc" stroke-width="0.8" />
<line x1="330.91999999999996" y1="394.1148" x2="334.52" y2="394.1148" stroke="#c9a0dc" stroke-width="0.8" />
<line x1="348.56" y1="384.5784" x2="348.56" y2="388.8168" stroke="#c9a0dc" stroke-width="0.8" />
<line x1="346.76" y1="384.5784" x2="350.36" y2="384.5784" stroke="#c9a0dc" stroke-width="0.8" />
<line x1="346.76" y1="388.8168" x2="350.36" y2="388.8168" stroke="#c9a0dc" stroke-width="0.8" />
<line x1="359.12" y1="374.6888" x2="359.12" y2="383.1656" stroke="#c9a0dc" stroke-width="0.8" />
<line x1="357.32" y1="374.6888" x2="360.92" y2="374.6888" stroke="#c9a0dc" stroke-width="0.8" />
<line x1="357.32" y1="383.1656" x2="360.92" y2="383.1656" stroke="#c9a0dc" stroke-width="0.8" />
<line x1="374.96" y1="371.1568" x2="374.96" y2="385.2848" stroke="#c9a0dc" stroke-width="0.8" />
<line x1="373.15999999999997" y1="371.1568" x2="376.76" y2="371.1568" stroke="#c9a0dc" stroke-width="0.8" />
<line x1="373.15999999999997" y1="385.2848" x2="376.76" y2="385.2848" stroke="#c9a0dc" stroke-width="0.8" />
<line x1="390.8" y1="357.7352" x2="390.8" y2="378.92719999999997" stroke="#c9a0dc" stroke-width="0.8" />
<line x1="389.0" y1="357.7352" x2="392.6" y2="357.7352" stroke="#c9a0dc" stroke-width="0.8" />
<line x1="389.0" y1="378.92719999999997" x2="392.6" y2="378.92719999999997" stroke="#c9a0dc" stroke-width="0.8" />
<line x1="332.71999999999997" y1="390.2296" x2="332.71999999999997" y2="393.0552" stroke="#a6d8b4" stroke-width="0.8" />
<line x1="330.91999999999996" y1="390.2296" x2="334.52" y2="390.2296" stroke="#a6d8b4" stroke-width="0.8" />
<line x1="330.91999999999996" y1="393.0552" x2="334.52" y2="393.0552" stroke="#a6d8b4" stroke-width="0.8" />
<line x1="348.56" y1="373.276" x2="348.56" y2="384.5784" stroke="#a6d8b4" stroke-width="0.8" />
<line x1="346.76" y1="373.276" x2="350.36" y2="373.276" stroke="#a6d8b4" stroke-width="0.8" />
<line x1="346.76" y1="384.5784" x2="350.36" y2="384.5784" stroke="#a6d8b4" stroke-width="0.8" />
<line x1="359.12" y1="354.2032" x2="359.12" y2="372.5696" stroke="#a6d8b4" stroke-width="0.8" />
<line x1="357.32" y1="354.2032" x2="360.92" y2="354.2032" stroke="#a6d8b4" stroke-width="0.8" />
<line x1="357.32" y1="372.5696" x2="360.92" y2="372.5696" stroke="#a6d8b4" stroke-width="0.8" />
<line x1="374.96" y1="330.892" x2="374.96" y2="356.3224" stroke="#a6d8b4" stroke-width="0.8" />
<line x1="373.15999999999997" y1="330.892" x2="376.76" y2="330.892" stroke="#a6d8b4" stroke-width="0.8" />
<line x1="373.15999999999997" y1="356.3224" x2="376.76" y2="356.3224" stroke="#a6d8b4" stroke-width="0.8" />
<line x1="390.8" y1="313.23199999999997" x2="390.8" y2="337.2496" stroke="#a6d8b4" stroke-width="0.8" />
<line x1="389.0" y1="313.23199999999997" x2="392.6" y2="313.23199999999997" stroke="#a6d8b4" stroke-width="0.8" />
<line x1="389.0" y1="337.2496" x2="392.6" y2="337.2496" stroke="#a6d8b4" stroke-width="0.8" />
<line x1="332.71999999999997" y1="390.44152" x2="332.71999999999997" y2="393.26712" stroke="#98a4c8" stroke-width="0.8" />
<line x1="330.91999999999996" y1="390.44152" x2="334.52" y2="390.44152" stroke="#98a4c8" stroke-width="0.8" />
<line x1="330.91999999999996" y1="393.26712" x2="334.52" y2="393.26712" stroke="#98a4c8" stroke-width="0.8" />
<line x1="348.56" y1="376.808" x2="348.56" y2="388.1104" stroke="#98a4c8" stroke-width="0.8" />
<line x1="346.76" y1="376.808" x2="350.36" y2="376.808" stroke="#98a4c8" stroke-width="0.8" />
<line x1="346.76" y1="388.1104" x2="350.36" y2="388.1104" stroke="#98a4c8" stroke-width="0.8" />
<line x1="359.12" y1="354.5564" x2="359.12" y2="374.3356" stroke="#98a4c8" stroke-width="0.8" />
<line x1="357.32" y1="354.5564" x2="360.92" y2="354.5564" stroke="#98a4c8" stroke-width="0.8" />
<line x1="357.32" y1="374.3356" x2="360.92" y2="374.3356" stroke="#98a4c8" stroke-width="0.8" />
<line x1="374.96" y1="330.892" x2="374.96" y2="356.3224" stroke="#98a4c8" stroke-width="0.8" />
<line x1="373.15999999999997" y1="330.892" x2="376.76" y2="330.892" stroke="#98a4c8" stroke-width="0.8" />
<line x1="373.15999999999997" y1="356.3224" x2="376.76" y2="356.3224" stroke="#98a4c8" stroke-width="0.8" />
<line x1="390.8" y1="322.7684" x2="390.8" y2="345.3732" stroke="#98a4c8" stroke-width="0.8" />
<line x1="389.0" y1="322.7684" x2="392.6" y2="322.7684" stroke="#98a4c8" stroke-width="0.8" />
<line x1="389.0" y1="345.3732" x2="392.6" y2="345.3732" stroke="#98a4c8" stroke-width="0.8" />
<polyline points="285.20,398.00 301.04,398.00 316.88,394.47 332.72,393.76 348.56,390.94 359.12,389.88 374.96,388.11 390.80,385.28" fill="none" stroke="#e5474b" stroke-width="1.1"/>
<polyline points="285.20,398.00 301.04,398.00 316.88,394.11 332.72,393.06 348.56,386.70 359.12,378.93 374.96,378.22 390.80,368.33" fill="none" stroke="#8a5bb0" stroke-width="1.1"/>
<polyline points="285.20,398.00 301.04,398.00 316.88,393.76 332.72,391.64 348.56,378.93 359.12,363.39 374.96,343.61 390.80,325.24" fill="none" stroke="#3fa860" stroke-width="1.1"/>
<polyline points="285.20,398.00 301.04,398.00 316.88,393.76 332.72,391.85 348.56,382.46 359.12,364.45 374.96,343.61 390.80,334.07" fill="none" stroke="#2d5f86" stroke-width="1.1"/>
<line x1="281.7" y1="397.3" x2="303.152" y2="397.3" stroke="#8a92b8" stroke-width="1.3" />
<polyline points="302.62,398.00 316.88,394.11" fill="none" stroke="#555" stroke-width="1.3"/>
<path d="M419.2 315.7 H412.5 V327.9 H419.2" fill="none" stroke="#222" stroke-width="1.1"/>
<circle cx="406.4" cy="318.40000000000003" r="1.6" fill="#111"/>
<circle cx="406.4" cy="322.0" r="1.6" fill="#111"/>
<circle cx="406.4" cy="325.7" r="1.6" fill="#111"/>
<path d="M419.2 340.8 H412.5 V354.8 H419.2" fill="none" stroke="#222" stroke-width="1.1"/>
<circle cx="406.4" cy="343.6" r="1.6" fill="#111"/>
<circle cx="406.4" cy="347.3" r="1.6" fill="#111"/>
<circle cx="406.4" cy="351.0" r="1.6" fill="#111"/>
<line x1="421.3" y1="315.7" x2="431.3" y2="315.7" stroke="#8a95c8" stroke-width="1" />
<line x1="421.3" y1="327.9" x2="431.3" y2="327.9" stroke="#e87070" stroke-width="1" />
<line x1="421.3" y1="340.8" x2="431.3" y2="340.8" stroke="#70c080" stroke-width="1" />
<line x1="421.3" y1="354.8" x2="431.3" y2="354.8" stroke="#b290cc" stroke-width="1" />
<text x="436.5" y="318.7" font-size="7.2" text-anchor="start" font-weight="bold" fill="#222" >B16 + PBS</text>
<text x="436.5" y="330.9" font-size="7.2" text-anchor="start" font-weight="bold" fill="#222" >B16 + anti–PD-1</text>
<text x="436.5" y="343.6" font-size="7.2" font-weight="bold" fill="#222">B16<tspan font-size="5" dy="1.6">CIITAKO</tspan><tspan dy="-1.6"> + PBS</tspan></text>
<text x="436.5" y="357.2" font-size="7.2" font-weight="bold" fill="#222">B16<tspan font-size="5" dy="1.6">CIITAKO</tspan><tspan dy="-1.6"> + anti–PD-1</tspan></text>
</svg>
</body></html>
